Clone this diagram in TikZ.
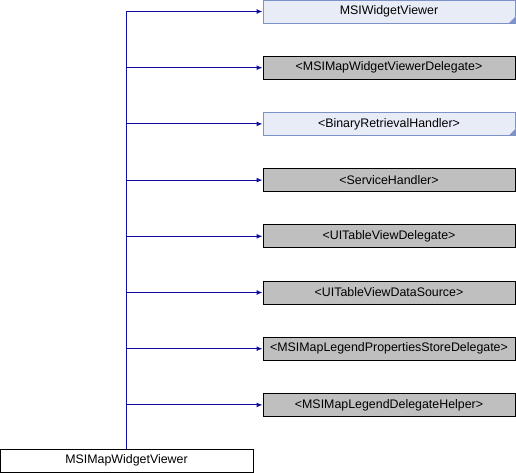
\documentclass[tikz,border=0pt]{standalone}
\usepackage{fontspec}
\setmainfont{Liberation Sans}
\usetikzlibrary{arrows.meta,positioning}
\definecolor{edgeblue}{RGB}{16,16,160}
\definecolor{clsfill}{RGB}{232,236,246}
\definecolor{clsdraw}{RGB}{124,146,200}
\definecolor{protofill}{RGB}{191,191,191}

\begin{document}
\begin{tikzpicture}[
  x=1pt, y=-1pt,
  every node/.style={font=\fontsize{12.4}{14}\selectfont, inner sep=0pt},
  cls/.style={draw=clsdraw, fill=clsfill, line width=1pt, minimum width=252pt,
              minimum height=23pt,
              path picture={\fill[clsdraw] (path picture bounding box.south east)
                -- ++(-6pt,0pt) -- ++(6pt,6pt) -- cycle;}},
  proto/.style={draw=black, fill=protofill, line width=1pt, minimum width=252pt,
                minimum height=23pt},
  base/.style={draw=black, fill=white, line width=1pt, minimum width=253pt,
               minimum height=23pt},
  arrow/.style={-{Latex[length=6pt,width=5pt]}, line width=1pt, edgeblue}
]
\useasboundingbox (0,0) rectangle (516,472);
\node[cls]   (widget)  at (389,11.5)  {MSIWidgetViewer};
\node[proto] (mapdel)  at (389,67.7)  {<MSIMapWidgetViewerDelegate>};
\node[cls]   (binary)  at (389,123.9) {<BinaryRetrievalHandler>};
\node[proto] (service) at (389,180.1) {<ServiceHandler>};
\node[proto] (tvdel)   at (389,236.3) {<UITableViewDelegate>};
\node[proto] (tvsrc)   at (389,292.5) {<UITableViewDataSource>};
\node[proto] (legprop) at (389,348.7) {<MSIMapLegendPropertiesStoreDelegate>};
\node[proto] (leghelp) at (389,404.9) {<MSIMapLegendDelegateHelper>};
\node[base]  (mapview) at (126.5,460.5) {MSIMapWidgetViewer};
\foreach \to in {widget, mapdel, binary, service, tvdel, tvsrc, legprop, leghelp}
  \draw[arrow] (mapview.north) |- (\to.west);
\end{tikzpicture}
\end{document}
